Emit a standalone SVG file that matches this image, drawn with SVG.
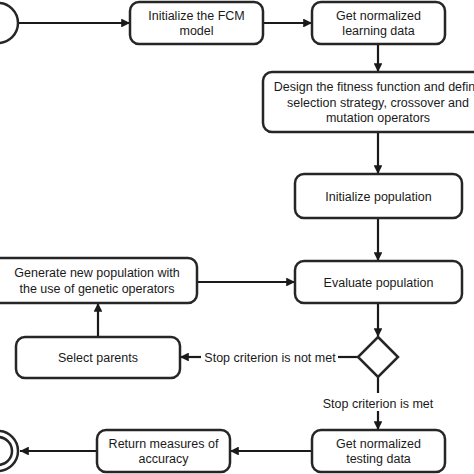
<svg xmlns="http://www.w3.org/2000/svg" width="474" height="474" viewBox="0 0 474 474">
<defs>
<style>
.box{fill:#fff;stroke:#262626;stroke-width:2.5}
.t{font-family:"Liberation Sans",Arial,sans-serif;font-size:12.5px;fill:#1a1a1a;text-anchor:middle}
.c{fill:none;stroke:#1a1a1a;stroke-width:2.2}
</style>
<marker id="ah" viewBox="0 0 10 10" refX="10" refY="5" markerWidth="4" markerHeight="4" orient="auto" markerUnits="strokeWidth">
<path d="M0,0 L10,5 L0,10 z" fill="#1a1a1a"/>
</marker>
</defs>
<rect width="474" height="474" fill="#fff"/>
<g id="connectors">
<path class="c" d="M18,23 H130" marker-end="url(#ah)"/>
<path class="c" d="M263,23 H312" marker-end="url(#ah)"/>
<path class="c" d="M378,44 V72" marker-end="url(#ah)"/>
<path class="c" d="M378,132 V174" marker-end="url(#ah)"/>
<path class="c" d="M378,218 V261" marker-end="url(#ah)"/>
<path class="c" d="M197,282 H295" marker-end="url(#ah)"/>
<path class="c" d="M378,303 V337" marker-end="url(#ah)"/>
<path class="c" d="M98,337 V303" marker-end="url(#ah)"/>
<path class="c" d="M358,357 H338"/>
<path class="c" d="M201,357 H180" marker-end="url(#ah)"/>
<text class="t" x="270" y="361.5">Stop criterion is not met</text>
<path class="c" d="M378,377 V393"/>
<path class="c" d="M378,411 V430" marker-end="url(#ah)"/>
<text class="t" x="378" y="407.5">Stop criterion is met</text>
<path class="c" d="M312,451 H230" marker-end="url(#ah)"/>
<path class="c" d="M97,451 H20" marker-end="url(#ah)"/>
</g>
<g id="start"><circle cx="-2" cy="23" r="20" fill="#fff" stroke="#262626" stroke-width="2.5"/></g>
<g id="end"><circle cx="-2" cy="451" r="20" fill="#fff" stroke="#262626" stroke-width="2.5"/><circle cx="-2" cy="451" r="14" fill="#fff" stroke="#262626" stroke-width="2.5"/></g>
<g id="init-fcm"><rect class="box" x="130" y="2" width="133" height="42" rx="9"/><text class="t" x="196.5" y="19.5">Initialize the FCM</text><text class="t" x="196.5" y="35">model</text></g>
<g id="get-learning"><rect class="box" x="312" y="2" width="133" height="42" rx="9"/><text class="t" x="378.5" y="19.5">Get normalized</text><text class="t" x="378.5" y="35">learning data</text></g>
<g id="design"><rect class="box" x="263" y="72" width="232" height="60" rx="9"/><text class="t" x="378" y="91">Design the fitness function and define</text><text class="t" x="378" y="106.5">selection strategy, crossover and</text><text class="t" x="378" y="122">mutation operators</text></g>
<g id="init-pop"><rect class="box" x="295" y="174" width="167" height="44" rx="9"/><text class="t" x="378.5" y="200.5">Initialize population</text></g>
<g id="evaluate"><rect class="box" x="295" y="261" width="167" height="42" rx="9"/><text class="t" x="378.5" y="286.5">Evaluate population</text></g>
<g id="generate"><rect class="box" x="-8" y="258" width="205" height="45" rx="9"/><text class="t" x="97" y="277">Generate new population with</text><text class="t" x="97" y="293">the use of genetic operators</text></g>
<g id="select"><rect class="box" x="16" y="337" width="164" height="41" rx="9"/><text class="t" x="98" y="361.5">Select parents</text></g>
<g id="decision"><path d="M378,337 L398,357 L378,377 L358,357 Z" fill="#fff" stroke="#262626" stroke-width="2.5"/></g>
<g id="get-testing"><rect class="box" x="312" y="430" width="133" height="42" rx="9"/><text class="t" x="378.5" y="447.5">Get normalized</text><text class="t" x="378.5" y="463">testing data</text></g>
<g id="return"><rect class="box" x="97" y="430" width="133" height="42" rx="9"/><text class="t" x="163.5" y="447.5">Return measures of</text><text class="t" x="163.5" y="463">accuracy</text></g>
</svg>
